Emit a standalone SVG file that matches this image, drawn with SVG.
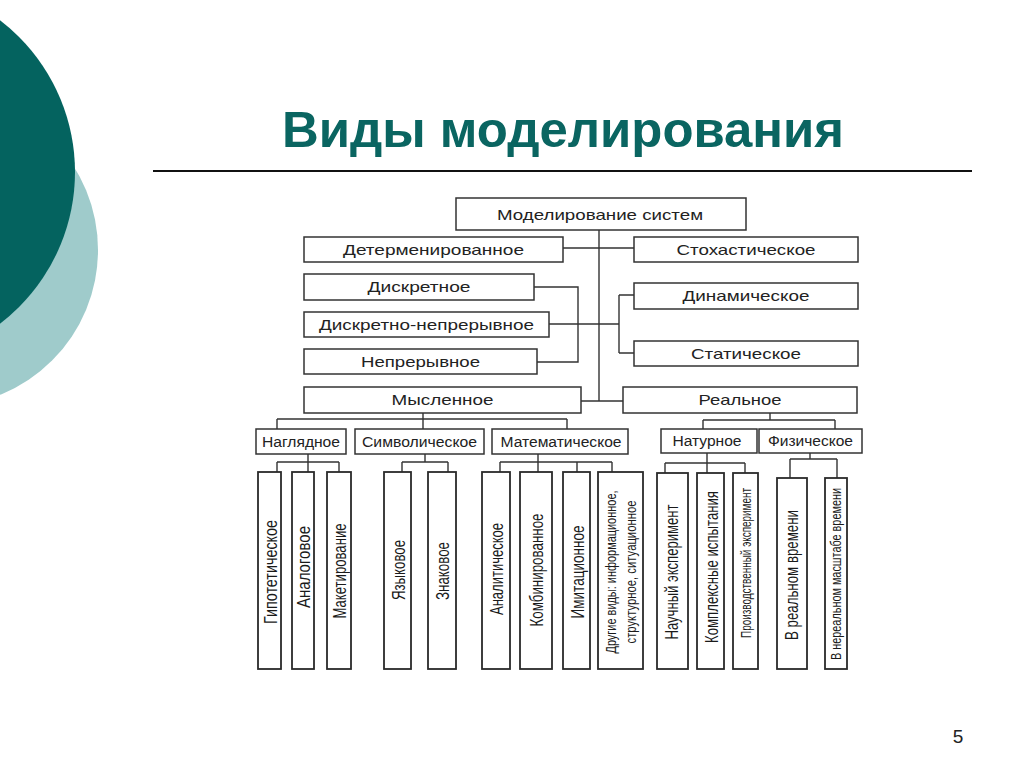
<svg xmlns="http://www.w3.org/2000/svg" width="1024" height="768" viewBox="0 0 1024 768">
<style>
.bx{fill:#fff;stroke:#333;stroke-width:1.5}
.vb{fill:#fff;stroke:#2a2a2a;stroke-width:1.8}
.ln{fill:none;stroke:#333;stroke-width:1.4}
.t{font-family:"Liberation Sans",Arial,sans-serif;font-size:15px;fill:#222;text-anchor:middle}
.s{font-family:"Liberation Sans",Arial,sans-serif;font-size:14px;fill:#222;text-anchor:middle}
.v{font-family:"Liberation Sans",Arial,sans-serif;font-size:19px;fill:#1a1a1a;text-anchor:middle}
.vs{font-family:"Liberation Sans",Arial,sans-serif;font-size:15px;fill:#1a1a1a;text-anchor:middle}
</style>
<rect x="0" y="0" width="1024" height="768" fill="#fff"/>
<circle cx="-58" cy="250" r="156" fill="#9FCBCB"/>
<circle cx="-116" cy="172" r="191" fill="#04635F"/>
<text x="563" y="147" font-family="Liberation Sans,Arial,sans-serif" font-weight="bold" font-size="50" fill="#0A6561" text-anchor="middle" textLength="562" lengthAdjust="spacingAndGlyphs">Виды моделирования</text>
<line x1="153" y1="171" x2="972" y2="171" stroke="#111" stroke-width="2"/>
<text x="958" y="743" font-family="Liberation Sans,Arial,sans-serif" font-size="19" fill="#222" text-anchor="middle">5</text>

<g id="connectors">
<path class="ln" d="M599,230V401M581,401H623M563,248H634"/>
<path class="ln" d="M534,287H578V362H537M549,324H619M619,295V353M619,295H634M619,353H634"/>
<path class="ln" d="M423,413V429M277,419H567M277,419V429M567,419V429"/>
<path class="ln" d="M770,413V420M703,420H835M703,420V429M835,420V429"/>
<path class="ln" d="M308,454V462M277,462H339M277,462V472M308,462V472M339,462V472"/>
<path class="ln" d="M425,454V462M402,462H448M402,462V472M448,462V472"/>
<path class="ln" d="M538,454V462M500,462H612M500,462V472M538,462V472M577,462V472M612,462V472"/>
<path class="ln" d="M707,453V463M665,463H745M665,463V473M707,463V473M745,463V473"/>
<path class="ln" d="M810,453V459M790,459H837M790,459V478M837,459V478"/>
</g>

<g id="n-sys"><rect class="bx" x="456" y="198" width="290" height="32"/><text class="t" x="600" y="219.5" textLength="206" lengthAdjust="spacingAndGlyphs">Моделирование систем</text></g>
<g id="n-det"><rect class="bx" x="304" y="237" width="259" height="25"/><text class="t" x="433.5" y="254.5" textLength="181" lengthAdjust="spacingAndGlyphs">Детерменированное</text></g>
<g id="n-sto"><rect class="bx" x="634" y="237" width="224" height="25"/><text class="t" x="746" y="254.5" textLength="139" lengthAdjust="spacingAndGlyphs">Стохастическое</text></g>
<g id="n-disc"><rect class="bx" x="304" y="274" width="230" height="26"/><text class="t" x="419" y="292" textLength="103" lengthAdjust="spacingAndGlyphs">Дискретное</text></g>
<g id="n-dn"><rect class="bx" x="304" y="312" width="245" height="25"/><text class="t" x="426.5" y="329.5" textLength="215" lengthAdjust="spacingAndGlyphs">Дискретно-непрерывное</text></g>
<g id="n-nep"><rect class="bx" x="304" y="349" width="233" height="25"/><text class="t" x="420.5" y="366.5" textLength="119" lengthAdjust="spacingAndGlyphs">Непрерывное</text></g>
<g id="n-din"><rect class="bx" x="634" y="283" width="224" height="26"/><text class="t" x="746" y="301" textLength="127" lengthAdjust="spacingAndGlyphs">Динамическое</text></g>
<g id="n-stat"><rect class="bx" x="634" y="341" width="224" height="25"/><text class="t" x="746" y="358.5" textLength="110" lengthAdjust="spacingAndGlyphs">Статическое</text></g>
<g id="n-mys"><rect class="bx" x="304" y="387" width="277" height="26"/><text class="t" x="442.5" y="405" textLength="102" lengthAdjust="spacingAndGlyphs">Мысленное</text></g>
<g id="n-real"><rect class="bx" x="623" y="387" width="234" height="26"/><text class="t" x="740" y="405" textLength="83" lengthAdjust="spacingAndGlyphs">Реальное</text></g>

<g id="n-nagl"><rect class="bx" x="256" y="429" width="90" height="25"/><text class="s" x="301" y="446.5" textLength="78" lengthAdjust="spacingAndGlyphs">Наглядное</text></g>
<g id="n-simv"><rect class="bx" x="355" y="429" width="129" height="25"/><text class="s" x="419.5" y="446.5" textLength="115" lengthAdjust="spacingAndGlyphs">Символическое</text></g>
<g id="n-mat"><rect class="bx" x="492" y="429" width="136" height="25"/><text class="s" x="561" y="446.5" textLength="121" lengthAdjust="spacingAndGlyphs">Математическое</text></g>
<g id="n-nat"><rect class="bx" x="661" y="429" width="96" height="24"/><text class="s" x="707" y="446" textLength="69" lengthAdjust="spacingAndGlyphs">Натурное</text></g>
<g id="n-fiz"><rect class="bx" x="759" y="429" width="103" height="24"/><text class="s" x="810.5" y="446" textLength="85" lengthAdjust="spacingAndGlyphs">Физическое</text></g>

<g id="n-gip"><rect class="vb" x="258" y="472" width="23" height="197"/><text class="v" transform="translate(269.5,572) rotate(-90)" y="7" textLength="104" lengthAdjust="spacingAndGlyphs">Гипотетическое</text></g>
<g id="n-anal"><rect class="vb" x="292" y="472" width="22" height="197"/><text class="v" transform="translate(303,567) rotate(-90)" y="7" textLength="82" lengthAdjust="spacingAndGlyphs">Аналоговое</text></g>
<g id="n-mak"><rect class="vb" x="327" y="472" width="24" height="197"/><text class="v" transform="translate(339,571) rotate(-90)" y="7" textLength="95" lengthAdjust="spacingAndGlyphs">Макетирование</text></g>
<g id="n-yaz"><rect class="vb" x="384" y="472" width="27" height="197"/><text class="v" transform="translate(397.5,570) rotate(-90)" y="7" textLength="60" lengthAdjust="spacingAndGlyphs">Языковое</text></g>
<g id="n-zn"><rect class="vb" x="428" y="472" width="28" height="197"/><text class="v" transform="translate(442,571) rotate(-90)" y="7" textLength="58" lengthAdjust="spacingAndGlyphs">Знаковое</text></g>
<g id="n-analit"><rect class="vb" x="482" y="472" width="28" height="197"/><text class="v" transform="translate(496,569) rotate(-90)" y="7" textLength="92" lengthAdjust="spacingAndGlyphs">Аналитическое</text></g>
<g id="n-komb"><rect class="vb" x="520" y="472" width="32" height="197"/><text class="v" transform="translate(536,570) rotate(-90)" y="7" textLength="113" lengthAdjust="spacingAndGlyphs">Комбинированное</text></g>
<g id="n-imit"><rect class="vb" x="563" y="472" width="27" height="197"/><text class="v" transform="translate(576.5,572) rotate(-90)" y="7" textLength="93" lengthAdjust="spacingAndGlyphs">Имитационное</text></g>
<g id="n-dr"><rect class="vb" x="598" y="472" width="45" height="197"/><text class="vs" transform="translate(611,572) rotate(-90)" y="5" textLength="163" lengthAdjust="spacingAndGlyphs">Другие виды: информационное,</text><text class="vs" transform="translate(631,572) rotate(-90)" y="5" textLength="143" lengthAdjust="spacingAndGlyphs">структурное, ситуационное</text></g>
<g id="n-nauch"><rect class="vb" x="657" y="473" width="31" height="196"/><text class="v" transform="translate(671,572) rotate(-90)" y="7" textLength="135" lengthAdjust="spacingAndGlyphs">Научный эксперимент</text></g>
<g id="n-kompl"><rect class="vb" x="697" y="473" width="27" height="196"/><text class="v" transform="translate(710.5,567) rotate(-90)" y="7" textLength="152" lengthAdjust="spacingAndGlyphs">Комплексные испытания</text></g>
<g id="n-proizv"><rect class="vb" x="733" y="473" width="25" height="196"/><text class="vs" transform="translate(745.5,563) rotate(-90)" y="5" textLength="150" lengthAdjust="spacingAndGlyphs">Производственный эксперимент</text></g>
<g id="n-vreal"><rect class="vb" x="777" y="478" width="30" height="191"/><text class="v" transform="translate(791,575) rotate(-90)" y="7" textLength="130" lengthAdjust="spacingAndGlyphs">В реальном времени</text></g>
<g id="n-vnereal"><rect class="vb" x="825" y="478" width="22" height="191"/><text class="vs" transform="translate(836,574) rotate(-90)" y="5" textLength="172" lengthAdjust="spacingAndGlyphs">В нереальном масштабе времени</text></g>
</svg>
